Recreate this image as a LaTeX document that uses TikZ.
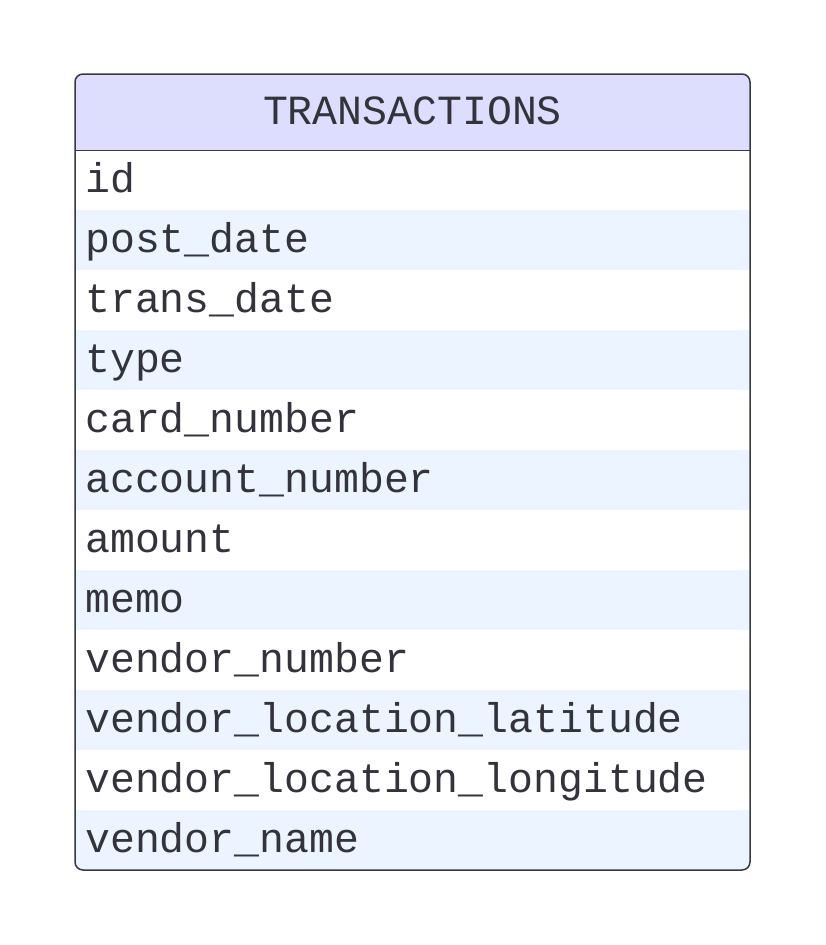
\documentclass[tikz,border=0pt]{standalone}
\usepackage{fontspec}
\setmonofont{Liberation Mono}
\usetikzlibrary{positioning}
\definecolor{headfill}{RGB}{221,221,253}
\definecolor{stripe}{RGB}{236,244,255}
\definecolor{edge}{RGB}{55,57,65}
\definecolor{ink}{RGB}{51,51,60}
\newcommand\tleft{75}
\newcommand\tright{750}
\newcommand\ttop{74}
\newcommand\rowh{60}
\tikzset{
    field/.style={anchor=base west, inner sep=0pt, text=ink,
        font=\fontsize{41.5}{41.5}\selectfont\ttfamily},
    title/.style={anchor=base, inner sep=0pt, text=ink,
        font=\fontsize{41.5}{41.5}\selectfont\ttfamily},
    stripebox/.style={fill=stripe, draw=none}
}

\begin{document}
\begin{tikzpicture}[x=1pt,y=-1pt]
        \useasboundingbox (0,0) rectangle (825,945);
        \begin{scope}
        \clip[rounded corners=8pt] (\tleft,\ttop) rectangle (\tright,870);
        \fill[headfill] (\tleft,\ttop) rectangle (\tright,150);
        \fill[white] (\tleft,150) rectangle (\tright,870);
        % alternating rows
        \foreach \i in {2,4,...,12}
            \fill[stripebox] (\tleft,{150+(\i-1)*\rowh}) rectangle (\tright,{150+\i*\rowh});
        \end{scope}
        \draw[edge, line width=1.5pt, rounded corners=8pt] (\tleft,\ttop) rectangle (\tright,870);
        \draw[edge, line width=1pt] (\tleft,150) -- (\tright,150);
        \node[title] (head) at (412.5,124) {TRANSACTIONS};
        \foreach \name [count=\i] in {id,post\_date,trans\_date,type,card\_number,
            account\_number,amount,memo,vendor\_number,vendor\_location\_latitude,
            vendor\_location\_longitude,vendor\_name}
            \node[field] (row\i) at (85,{180+(\i-1)*\rowh+12}) {\name};
        \end{tikzpicture}
\end{document}
